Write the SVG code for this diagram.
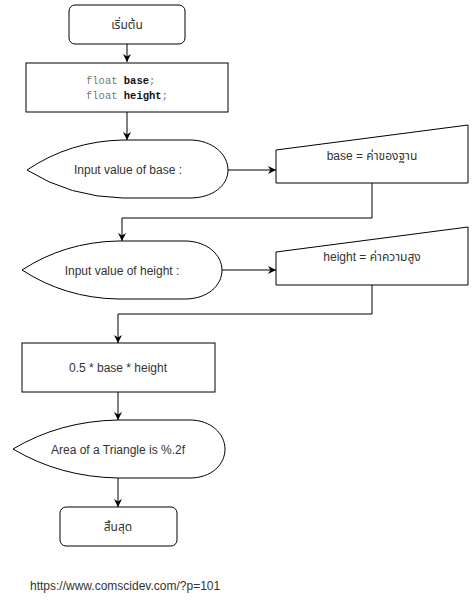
<svg xmlns="http://www.w3.org/2000/svg" width="474" height="600" viewBox="0 0 474 600">
<defs>
<style>
.s{fill:#fff;stroke:#000;stroke-width:1}
.t{font-family:"Liberation Sans",Arial,"Noto Sans Thai","DejaVu Sans",sans-serif;font-size:12px;fill:#333;text-anchor:middle;dominant-baseline:central}
.m{font-family:"Liberation Mono","Courier New",monospace;font-size:10.5px;fill:#777}
.mb{font-weight:bold;fill:#111}
.c{fill:none;stroke:#000;stroke-width:1}
</style>
<marker id="ah" viewBox="0 0 10 10" refX="10" refY="5" markerWidth="8" markerHeight="8" markerUnits="userSpaceOnUse" orient="auto">
<path d="M0,0 L10,5 L0,10 L3,5 Z" fill="#000"/>
</marker>
</defs>
<rect width="474" height="600" fill="#fff"/>
<g id="connectors">
<path class="c" d="M127,44 V62" marker-end="url(#ah)"/>
<path class="c" d="M127,112 V140" marker-end="url(#ah)"/>
<path class="c" d="M228,170 H276" marker-end="url(#ah)"/>
<path class="c" d="M372,183 V218 H122 V241" marker-end="url(#ah)"/>
<path class="c" d="M222,270 H276" marker-end="url(#ah)"/>
<path class="c" d="M372,285 V314 H118 V343" marker-end="url(#ah)"/>
<path class="c" d="M118,392 V420" marker-end="url(#ah)"/>
<path class="c" d="M118,478 V507" marker-end="url(#ah)"/>
</g>
<g id="start">
<rect class="s" x="69" y="5" width="116" height="39" rx="6"/>
<text class="t" x="127" y="24.5">เริ่มต้น</text>
</g>
<g id="declare">
<rect class="s" x="26" y="63" width="202" height="49"/>
<text class="m" x="86" y="84">float <tspan class="mb">base</tspan>;</text>
<text class="m" x="86" y="99">float <tspan class="mb">height</tspan>;</text>
</g>
<g id="input-base">
<path class="s" d="M27,170 Q70,141 123,140 L190,140 C212,140 228,154 228,170 C228,186 212,198 190,198 L123,198 Q70,197 27,170 Z"/>
<text class="t" x="128" y="170">Input value of base :</text>
</g>
<g id="read-base">
<path class="s" d="M276,150 L468,125 L468,183 L276,183 Z"/>
<text class="t" x="372" y="156">base = ค่าของฐาน</text>
</g>
<g id="input-height">
<path class="s" d="M22,270 Q65,242 118,241 L185,241 C207,241 222,255 222,270 C222,286 207,299 185,299 L118,299 Q65,298 22,270 Z"/>
<text class="t" x="122" y="271">Input value of height :</text>
</g>
<g id="read-height">
<path class="s" d="M276,252 L468,227 L468,285 L276,285 Z"/>
<text class="t" x="372" y="257">height = ค่าความสูง</text>
</g>
<g id="compute">
<rect class="s" x="22" y="343" width="193" height="49"/>
<text class="t" x="118" y="368">0.5 * base * height</text>
</g>
<g id="output">
<path class="s" d="M13,449 Q60,421 118,420 L190,420 C211,420 225,434 225,449 C225,465 211,478 190,478 L118,478 Q60,477 13,449 Z"/>
<text class="t" x="118" y="450">Area of a Triangle is %.2f</text>
</g>
<g id="end">
<rect class="s" x="60" y="507" width="117" height="39" rx="6"/>
<text class="t" x="118" y="527">สิ้นสุด</text>
</g>
<text class="t" x="30" y="586" style="text-anchor:start">https://www.comscidev.com/?p=101</text>
</svg>
